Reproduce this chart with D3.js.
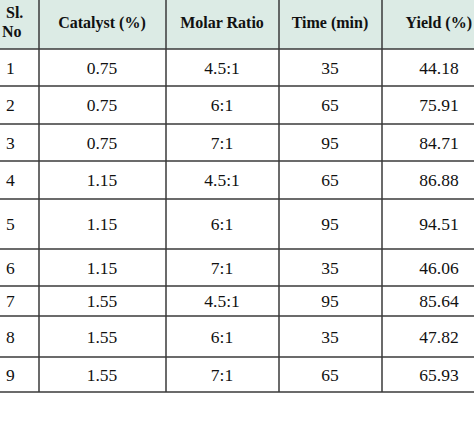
<!DOCTYPE html>
<html><head><meta charset="utf-8">
<script src="https://cdn.jsdelivr.net/npm/d3@7"></script>
<style>body{margin:0;background:#fff}</style>
</head><body>
<script>
const headers = ['Catalyst (%)', 'Molar Ratio', 'Time (min)', 'Yield (%)'];
const slNo = [1, 2, 3, 4, 5, 6, 7, 8, 9];
const catalyst = ['0.75', '0.75', '0.75', '1.15', '1.15', '1.15', '1.55', '1.55', '1.55'];
const molarRatio = ['4.5:1', '6:1', '7:1', '4.5:1', '6:1', '7:1', '4.5:1', '6:1', '7:1'];
const time = ['35', '65', '95', '65', '95', '35', '95', '35', '65'];
const yieldPct = ['44.18', '75.91', '84.71', '86.88', '94.51', '46.06', '85.64', '47.82', '65.93'];

const width = 474, height = 421;
const rowEdges = [49, 86, 124, 161, 199, 249, 286, 316, 357, 392];
const colEdges = [0, 39, 166, 279, 382, 474];
const textX = [null, 102, 222, 330, 439];

const svg = d3.select('body').append('svg')
    .attr('width', width).attr('height', height)
    .style('font-family', '"Liberation Serif", serif');

svg.append('rect').attr('x', 0).attr('y', 0).attr('width', width).attr('height', rowEdges[0])
    .attr('fill', '#dcebe5');

const line = '#3a3a3a';
svg.selectAll('.hl').data(rowEdges).enter().append('line')
    .attr('x1', 0).attr('x2', width).attr('y1', d => d).attr('y2', d => d)
    .attr('stroke', line).attr('stroke-width', 1.5);
svg.selectAll('.vl').data(colEdges.slice(1, 5)).enter().append('line')
    .attr('x1', d => d).attr('x2', d => d).attr('y1', 0).attr('y2', rowEdges[rowEdges.length - 1])
    .attr('stroke', line).attr('stroke-width', 1.5);

// header
const hdr = svg.append('g').attr('font-weight', 'bold').attr('font-size', 16).attr('fill', '#111');
hdr.append('text').attr('x', 6).attr('y', 18).text('Sl.');
hdr.append('text').attr('x', 2).attr('y', 37).text('No');
hdr.selectAll('.h').data(headers).enter().append('text')
    .attr('x', (d, i) => i === 3 ? 472 : textX[i + 1]).attr('y', 28)
    .attr('text-anchor', (d, i) => i === 3 ? 'end' : 'middle').text(d => d);

const rows = slNo.map((n, i) => [n, catalyst[i], molarRatio[i], time[i], yieldPct[i]]);
const g = svg.append('g').attr('font-size', 17.5).attr('fill', '#111');
rows.forEach((r, i) => {
    const cy = (rowEdges[i] + rowEdges[i + 1]) / 2 + 6;
    g.append('text').attr('x', 6).attr('y', cy).text(r[0]);
    for (let c = 1; c < 5; c++) {
        g.append('text').attr('x', textX[c]).attr('y', cy)
            .attr('text-anchor', 'middle').text(r[c]);
    }
});
</script>
</body></html>
